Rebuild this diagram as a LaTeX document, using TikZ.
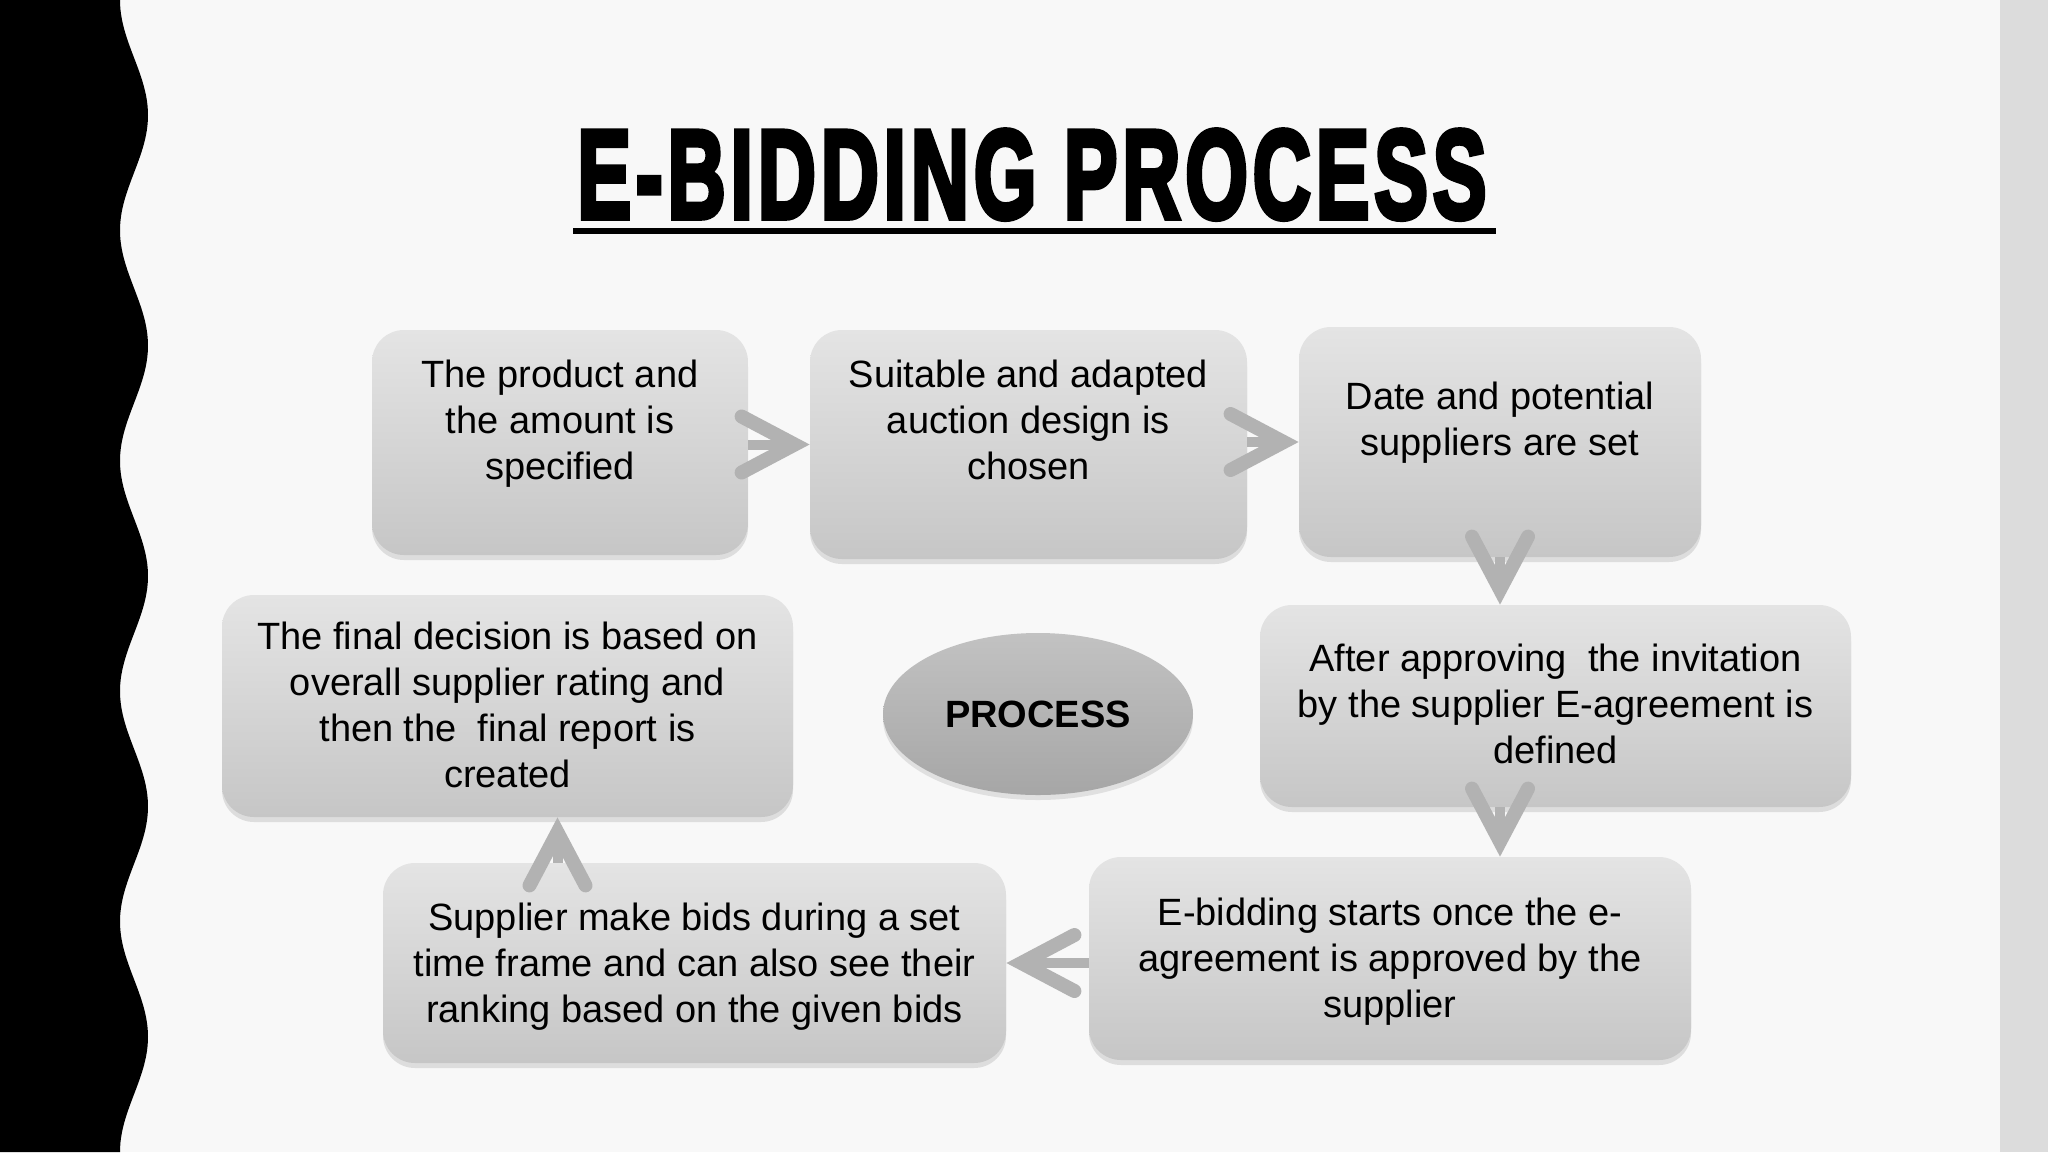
\documentclass[tikz,border=0pt]{standalone}
\usepackage{graphicx}
\usepackage{fontspec}
\setmainfont{Liberation Sans}
\newfontfamily\titlefont[LetterSpace=6, BoldFeatures={FakeBold=4.5}]{Liberation Sans}
\usetikzlibrary{shapes.geometric,shadows,calc}
\definecolor{bgcol}{HTML}{F8F8F8}
\definecolor{stripcol}{HTML}{DCDCDC}
\definecolor{boxtop}{HTML}{E4E4E4}
\definecolor{boxmid}{HTML}{DCDCDC}
\definecolor{boxbot}{HTML}{C6C6C6}
\definecolor{elltop}{HTML}{C2C2C2}
\definecolor{ellbot}{HTML}{A6A6A6}
\definecolor{arrowgray}{HTML}{B2B2B2}
\tikzset{
  stepbox/.style={rectangle, rounded corners=16pt, inner sep=0pt,
    top color=boxtop, middle color=boxmid, bottom color=boxbot,
    drop shadow={opacity=0.22, shadow xshift=0pt, shadow yshift=-2.5pt}},
  boxtext/.style={align=center, inner sep=0pt, anchor=base,
    font=\fontsize{19}{23}\selectfont, text=black},
  shaft/.style={draw=arrowgray, line width=5pt, line cap=butt},
  chevline/.style={draw=arrowgray, line width=7pt, line cap=round, line join=miter},
  chevhead/.pic={\draw[chevline] (-68,-28) -- (-15,0) -- (-68,28);}
}
\begin{document}
\begin{tikzpicture}[x=0.5pt,y=-0.5pt]
\useasboundingbox (0,0) rectangle (2048,1152);
% background
\fill[bgcol] (0,0) rectangle (2048,1152);
\fill[stripcol] (2000,0) rectangle (2048,1152);
% wavy black band
\fill[black] (0,0) -- plot[domain=0:1152, samples=240, variable=\t] ({134-14*cos(\t/230.4*360)}, {\t}) -- (0,1152) -- cycle;
% title
\node[anchor=base west, inner sep=0pt] (title) at (577,218)
  {\resizebox{454.5pt}{44pt}{\titlefont\bfseries E-BIDDING PROCESS}};
\draw[line width=3pt, black] (573,231) -- (1496,231);
% boxes
\node[stepbox, minimum width=188pt, minimum height=112.5pt] (b1) at (560,442.5) {};
\node[stepbox, minimum width=218.5pt, minimum height=114.5pt] (b2) at (1028.5,444.5) {};
\node[stepbox, minimum width=201pt, minimum height=115pt] (b3) at (1500,442) {};
\node[stepbox, minimum width=295.5pt, minimum height=101pt] (b4) at (1555.5,706) {};
\node[stepbox, minimum width=301pt, minimum height=101.5pt] (b5) at (1390,958.5) {};
\node[stepbox, minimum width=311.5pt, minimum height=100pt] (b6) at (694.5,963) {};
\node[stepbox, minimum width=285.5pt, minimum height=111pt] (b7) at (507.5,706) {};
% centre ellipse
\node[ellipse, inner sep=0pt, minimum width=155pt, minimum height=81pt,
  top color=elltop, bottom color=ellbot,
  drop shadow={opacity=0.2, shadow xshift=0pt, shadow yshift=-2.5pt},
  font=\fontsize{19}{23}\selectfont\bfseries] (pe) at (1038,714) {PROCESS};
% texts (anchor = baseline of the last line)
\node[boxtext] (t1) at (560,479) {The product and\\the amount is\\specified};
\node[boxtext] (t2) at (1028.5,479) {Suitable and adapted\\auction design is\\chosen};
\node[boxtext] (t3) at (1500,455) {Date and potential\\suppliers are set};
\node[boxtext] (t4) at (1555.5,763) {After approving~ the invitation\\by the supplier E-agreement is\\defined};
\node[boxtext] (t5) at (1390,1017) {E-bidding starts once the e-\\agreement is approved by the\\supplier};
\node[boxtext] (t6) at (694.5,1022) {Supplier make bids during a set\\time frame and can also see their\\ranking based on the given bids};
\node[boxtext] (t7) at (507.5,787) {The final decision is based on\\overall supplier rating and\\then the~ final report is\\created};
% arrows
\coordinate (a3tip) at (b3.south |- b4.north);
\coordinate (a4tip) at (b3.south |- b5.north);
\coordinate (a6tip) at ($(b7.south)+(50,0)$);
\draw[shaft] (b1.east |- b2.west) -- ($(b2.west)+(-15,0)$);
\pic at (b2.west) {chevhead};
\draw[shaft] (b2.east |- b3.west) -- ($(b3.west)+(-15,0)$);
\pic at (b3.west) {chevhead};
\draw[shaft] (b3.south) -- ($(a3tip)+(0,-15)$);
\pic[rotate=-90] at (a3tip) {chevhead};
\draw[shaft] (b3.south |- b4.south) -- ($(a4tip)+(0,-15)$);
\pic[rotate=-90] at (a4tip) {chevhead};
\draw[shaft] (b5.west |- b6.east) -- ($(b6.east)+(15,0)$);
\pic[rotate=180] at (b6.east) {chevhead};
\draw[shaft] (a6tip |- b6.north) -- ($(a6tip)+(0,15)$);
\pic[rotate=90] at (a6tip) {chevhead};
\end{tikzpicture}
\end{document}
